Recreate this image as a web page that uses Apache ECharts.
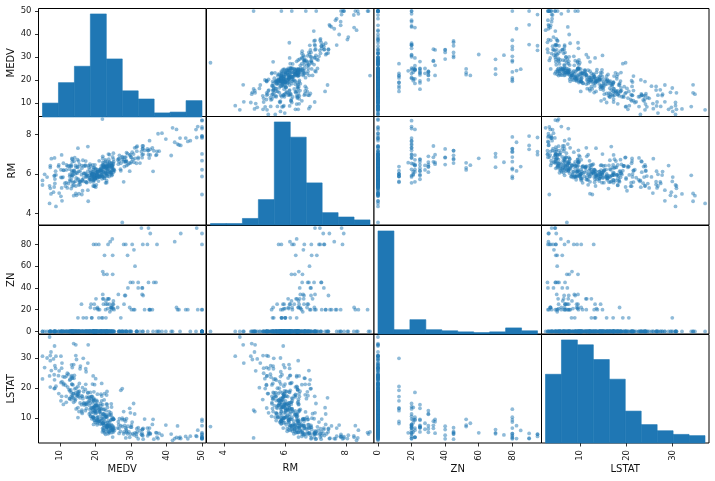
<!DOCTYPE html>
<html lang="en">
<head>
    <meta charset="UTF-8">
    <title>scatter matrix</title>
    <script src="https://cdn.jsdelivr.net/npm/echarts@6/dist/echarts.min.js"></script>
    <style>
        body { margin: 0; background: #fff; }
        #main { width: 715px; height: 481px; }
    </style>
</head>
<body>
<div id="main"></div>
<script>
    // values, same row order in all four lists
    var medv = [
        24,21.6,34.7,33.4,28.7,22.9,27.1,16.5,18.9,15,
        18.9,21.7,20.4,19.9,23.1,17.5,20.2,18.2,13.6,19.6,
        15.2,14.5,13.9,16.6,14.8,18.4,21,12.7,14.5,13.2,
        13.1,18.9,20,21,24.7,30.8,26.6,25.3,24.7,19.3,
        20,16.6,14.4,19.4,19.7,20.5,25,23.4,35.4,24.7,
        23.3,19.6,18.7,16,22.2,25,23.5,19.4,22,17.4,
        20.9,24.2,21.7,22.8,23.4,21.4,20,20.8,21.2,20.3,
        28,23.9,24.8,22.9,26.6,22.5,22.2,23.6,28.7,22.6,
        22,22.9,25,28.4,21.4,38.7,43.8,33.2,27.5,26.5,
        18.6,19.3,19.5,19.5,20.4,19.8,19.4,21.7,22.8,18.8,
        18.7,18.3,21.2,19.2,20.4,19.3,22,20.3,20.5,17.3,
        21.4,15.7,16.2,18,14.3,19.2,19.6,23,18.4,18.1,
        17.4,17.1,13.3,17.8,14,14.4,13.4,15.6,13.8,15.6,
        14.6,17.8,15.4,21.5,19.6,15.3,19.4,15.6,13.1,41.3,
        24.3,23.3,27,50,25,50,23.8,23.8,22.3,17.4,
        19.1,23.1,23.6,29.4,23.2,24.6,29.9,37.2,39.8,36.2,
        37.9,32.5,29.6,50,32,29.8,34.9,37,30.5,36.4,
        31.1,50,33.3,30.3,34.6,34.9,32.9,24.1,42.3,48.5,
        22.6,24.4,22.5,24.4,20,21.7,19.3,22.4,28.1,25,
        23.3,28.7,21.5,23,26.7,21.7,27.5,30.1,50,37.6,
        31.6,46.7,31.5,24.3,31.7,41.7,48.3,24,25.1,31.5,
        23.7,23.3,22,20.1,22.2,23.7,18.5,24.3,20.5,24.5,
        26.2,24.4,24.8,29.6,42.8,20.9,44,50,36,30.1,
        33.8,43.1,48.8,31,22.8,30.7,50,43.5,20.7,21.1,
        25.2,24.4,35.2,32,33.2,33.1,29.1,35.1,45.4,35.4,
        46,50,22,20.1,23.2,22.3,24.8,28.5,37.3,27.9,
        23.9,28.6,27.1,20.3,22.5,29,24.8,22,26.4,33.1,
        28.4,33.4,28.2,22.8,20.3,16.1,22.1,19.4,21.6,16.2,
        17.8,19.8,23.1,21,23.8,23.1,20.4,18.5,24.6,23,
        22.2,19.3,22.6,19.8,17.1,19.4,22.2,21.1,19.5,18.5,
        27.5,21.9,50,50,50,50,50,13.8,15,13.9,
        13.3,13.1,10.2,10.4,10.9,11.3,12.3,8.8,7.2,10.5,
        7.4,10.2,11.5,15.1,23.2,9.7,13.8,12.7,13.1,12.5,
        8.5,5,6.3,5.6,7.2,12.1,8.3,8.5,5,27.9,
        17.2,27.5,15,17.2,17.9,16.3,7,7.2,7.5,10.4,
        8.8,8.4,16.7,14.2,20.8,13.4,11.7,8.3,10.2,10.9,
        11,9.5,14.5,14.1,16.1,14.3,11.7,13.4,9.6,8.7,
        8.4,12.8,10.5,17.1,18.4,15.4,10.8,11.8,14.9,12.6,
        13,13.4,15.2,16.1,17.8,14.9,12.7,13.5,20,16.4,
        19.9,19,19.1,23.2,29.8,13.8,13.3,12,21.4,23.7,
        25,21.8,20.6,19.1,15.2,7,8.1,13.6,24.5,23.1,
        19.7,18.3,17.5,16.8,22.4,20.6,23.9,22
    ];
    var rm = [
        6.58,6.42,7.19,7,6.43,6.01,6.17,5.63,6,6.38,
        6.01,5.89,5.95,5.83,5.94,5.99,5.46,5.73,5.57,5.97,
        6.14,5.81,5.6,5.81,6.05,6.5,6.67,5.71,6.07,5.95,
        5.7,5.93,5.84,5.85,5.97,6.6,6.77,6.17,6.21,5.68,
        5.79,6.03,5.4,5.6,5.96,6.12,6.51,6,7.25,6.38,
        6.15,5.93,5.74,5.97,6.46,6.76,6.29,5.79,5.88,5.59,
        5.89,6.42,5.96,6.07,6.25,6.29,6.28,6.14,6.23,5.87,
        6.73,6.62,6.3,6.17,6.63,6.02,6.12,7.01,7.08,6.42,
        6.41,6.44,6.21,6.63,6.16,8.07,7.82,7.42,6.73,6.78,
        6.41,6.14,5.85,5.84,6.13,6.47,6.23,6.2,6.72,5.91,
        6.09,5.93,6.18,6.02,5.87,5.73,5.87,6,5.96,5.86,
        5.99,5.61,5.69,6.43,5.64,6.46,6.33,6.37,5.82,6.34,
        5.94,6.45,5.86,6.15,6.17,5.02,5.4,5.47,6.13,5.63,
        4.93,5.19,5.6,6.12,5.4,5.01,5.71,6.15,5.27,6.94,
        6.07,6.51,6.25,8.38,6.1,7.93,5.88,6.32,6.4,5.88,
        5.88,5.57,6.42,6.55,6.02,6.32,6.86,6.98,7.77,6.14,
        7.16,6.56,6.15,7.83,6.78,6.56,7.19,6.95,6.74,7.18,
        6.8,7.88,7.29,7.11,7.27,6.98,7.14,6.16,7.61,7.85,
        5.89,6.33,5.78,6.06,5.34,5.96,5.4,5.81,6.38,6.18,
        5.89,6.64,5.95,6.37,6.95,6.16,6.88,6.62,8.73,8.04,
        7.16,7.69,6.55,5.98,7.41,8.34,8.25,6.09,6.63,7.36,
        6.48,6.61,6.9,6.1,6.36,6.39,5.61,6.11,6.23,6.43,
        6.72,6.49,6.44,6.96,8.26,5.88,7.45,8.7,7.33,6.84,
        7.2,7.52,8.4,7.33,5.56,7.01,8.3,7.47,5.92,5.86,
        6.24,6.54,7.69,6.85,7.27,6.83,6.48,6.81,7.82,6.97,
        7.65,7.92,6.45,6.23,6.21,6.32,6.57,6.86,7.15,6.63,
        6.13,6.68,6.55,5.79,6.35,7.04,6.87,6.59,6.5,6.98,
        6.62,7.42,6.85,6.64,5.97,4.97,6.12,6.02,6.27,5.71,
        5.91,5.78,6.38,6.11,6.43,6.38,6.04,5.71,6.43,6.31,
        6.08,5.87,6.33,5.71,6.03,6.32,6.31,5.87,5.9,6.06,
        3.56,8.78,6.68,7.02,4.97,6.22,5.88,4.91,7.31,6.65,
        6.79,6.38,6.22,6.97,6.55,5.54,5.52,4.37,5.28,4.65,
        5,4.88,5.39,5.71,6.05,5.04,6.19,5.89,6.47,6.41,
        5.75,5.45,5.85,5.99,6.34,6.4,5.35,5.53,5.68,5.61,
        5.62,6.85,5.76,6.66,4.63,5.16,4.52,6.43,6.78,5.3,
        5.96,6.82,6.41,6.01,5.65,6.1,5.57,5.9,5.84,6.2,
        6.19,6.38,6.35,6.83,6.43,6.44,6.21,6.63,6.46,6.15,
        5.94,5.63,5.82,6.41,6.22,6.49,5.85,6.46,6.34,6.25,
        6.42,6.75,6.66,6.3,7.39,6.73,5.98,5.94,6.08,6.7,
        5.76,5.95,6,6.44,6.98,5.43,6.16,5.3,6.23,6.75,
        7.06,5.76,5.87,6.11,5.45,5.41,5.09,5.98,5.93,5.67,
        5.39,5.79,5.57,6.03,6.59,6.12,6.98,6.79
    ];
    var zn = [
        18,0,0,0,0,12.5,12.5,12.5,12.5,12.5,
        12.5,12.5,0,0,0,0,0,0,0,0,
        0,0,0,0,0,0,0,0,0,0,
        0,0,0,0,0,75,0,0,0,0,
        0,0,0,0,21,21,21,21,90,85,
        25,25,25,25,25,25,80,80,12.5,12.5,
        12.5,0,0,0,0,0,0,0,0,0,
        25,25,25,25,0,0,0,0,0,0,
        0,28,28,0,0,0,0,0,0,0,
        0,0,0,0,0,0,0,0,0,0,
        0,0,0,0,0,0,0,0,0,0,
        0,0,0,0,0,0,0,0,0,0,
        0,0,0,0,0,0,0,0,0,0,
        0,0,0,0,0,0,0,0,0,0,
        0,0,0,0,0,0,0,0,0,0,
        0,0,0,0,0,0,0,0,0,0,
        0,0,0,0,45,45,45,45,45,45,
        60,80,80,80,80,95,95,82.5,82.5,95,
        0,0,0,0,0,0,0,0,0,0,
        0,0,0,0,0,0,0,0,0,0,
        0,0,0,0,0,0,0,0,0,0,
        30,30,30,30,30,30,22,22,22,22,
        22,22,22,22,22,80,90,20,20,20,
        20,20,20,20,20,20,20,20,20,20,
        20,20,20,40,40,40,40,20,20,20,
        20,90,55,80,52.5,52.5,52.5,80,80,80,
        0,0,0,0,70,70,70,34,34,34,
        33,33,33,0,0,0,0,0,0,0,
        0,0,0,0,0,0,0,0,0,0,
        0,0,0,0,0,0,0,0,0,0,
        0,0,0,0,0,0,0,0,0,0,
        0,0,0,0,0,0,0,0,0,0,
        0,0,0,0,0,0,0,0,0,0,
        0,0,0,0,0,0,0,0,0,0,
        0,0,0,0,0,0,0,0,0,0,
        0,0,0,0,0,0,0,0,0,0,
        0,0,0,0,0,0,0,0,0,0,
        0,0,0,0,0,0,0,0,0,0,
        0,0,0,0,0,0,0,0,0,0,
        0,0,0,0,0,0,0,0,0,0,
        0,0,0,0,0,0,0,0,0,0,
        0,0,0,0,0,0,0,0
    ];
    var lstat = [
        5,9.1,4,2.9,5.2,12.4,19.2,29.9,17.1,20.5,
        13.3,15.7,8.3,8.5,6.6,14.7,11.7,11.3,21,13.8,
        18.7,19.9,16.5,14.8,17.3,12.8,12,22.6,13,27.7,
        18.4,9.7,11.4,8.8,10.1,4.3,4.8,5.8,7.4,10.2,
        14.2,18.8,30.8,16.2,13.5,9.4,5.3,8.4,4.8,5.8,
        6.9,9.2,13.2,14.4,6.7,9.5,4.7,10.2,8.1,13.1,
        8.8,6.7,9.9,5.5,7.5,8.9,12,10.3,12.3,9.1,
        5.3,7.2,6.7,7.5,6.5,12.9,8.4,5.5,5.7,8.8,
        8.2,8.2,6.2,6.7,11.3,4.2,3.6,6.2,9.4,7.7,
        10.6,13.4,16.5,18.7,14.1,12.3,15.6,13,10.2,16.2,
        17.1,15.8,12,10.3,15.4,13.6,14.4,14.3,17.9,25.4,
        14.8,27.3,17.2,15.4,18.3,12.6,12.3,11.1,15,17,
        16.9,14.6,21.3,18.5,24.2,34.4,26.8,26.4,27.8,16.7,
        29.5,28.3,21.5,14.1,13.3,12.1,15.8,15,16.1,4.6,
        6.4,7.4,5.5,3.3,9.8,3.7,12.1,11.1,11.3,14.4,
        12,14.7,9,5.3,10.1,6.3,6.9,5,7.6,9.5,
        4.8,5.7,13.2,4.5,6.7,4.6,5.4,5.1,4.7,2.9,
        5,3,4.1,8.6,6.6,4.6,4.5,7.4,3.1,3.8,
        10.9,11,18.1,14.7,23.1,17.3,24,16,9.4,9.5,
        13.5,9.7,17.9,10.5,9.7,21.5,9.9,7.6,4.6,3.1,
        6.4,3.9,3.8,11.7,5.3,2.5,4,10.9,9.5,4.7,
        6.4,7.4,11.4,12.4,11.2,5.2,18.5,9.2,10.2,9.5,
        6.6,5.9,3.6,3.5,3.5,9.3,3.1,5.1,7.8,6.9,
        9.6,7.3,5.9,11.3,10.5,14.8,7.4,3.2,13.7,13,
        6.6,7.7,6.6,3,6.1,4.2,7.2,4.9,3.8,4.6,
        3,3.2,8.2,12.9,7.1,7.6,9.5,3.3,3.6,4.7,
        8.6,6.3,7.4,15.8,5,4.7,6.1,9.5,8.7,4.9,
        8.9,6.5,7.5,4.5,10,12.6,6,11.7,7.9,11.5,
        18.3,15.9,10.4,12.7,7.2,6.9,7.7,11.7,5.1,6.2,
        12.8,10,7.3,9.1,12.4,7.8,5.7,8,9.8,10.6,
        7.1,5.3,3.7,3,3.3,9.5,8.9,34.8,13.4,23.2,
        21.2,23.7,21.8,17.2,21.1,23.6,24.6,30.6,30.8,28.3,
        32,30.6,20.9,17.1,18.8,25.7,15.2,16.4,17.1,19.4,
        19.9,30.6,30,26.8,20.3,20.3,19.8,27.4,23,12.1,
        26.4,19.8,10.1,21.2,34.4,20.1,37,29.1,25.8,26.6,
        20.6,22.7,15,15.7,14.1,23.3,17.2,24.4,15.7,14.5,
        21.5,24.1,17.6,19.7,12,16.2,15.2,23.3,18.1,26.5,
        34,22.9,22.1,19.5,16.6,18.9,23.8,24,17.8,16.4,
        19.3,17.4,17.7,17.3,16.7,18.7,19,16.9,14.7,16.4,
        14.1,17.2,21.3,14.4,11.7,18.1,24.1,24.9,13.1,7.7,
        7,10.4,13.3,15,18.1,24,29.7,18.1,13.6,17.6,
        21.1,14.1,15.1,14.3,9.7,9.1,5.6,6.5
    ];

    // bar heights of the diagonal histograms, 10 bins each
    var medvHist = [17,42,62,126,71,32,22,5,6,20];
    var rmHist = [2,2,9,35,142,121,58,17,11,7];
    var znHist = [288,12,40,12,9,6,4,6,17,9];
    var lstatHist = [56,84,80,68,52,26,15,10,7,6];

    var medvTicks = [10,20,30,40,50];
    var rmTicks = [4,6,8];
    var znTicks = [0,20,40,60,80];
    var lstatTicks = [10,20,30];

    var names = ['MEDV', 'RM', 'ZN', 'LSTAT'];

    if (medv.length !== rm.length || rm.length !== zn.length || zn.length !== lstat.length) {
        throw new Error('columns differ: ' + [medv.length, rm.length, zn.length, lstat.length]);
    }

    var columns = [medv, rm, zn, lstat];
    var hists = [medvHist, rmHist, znHist, lstatHist];
    var ticks = [medvTicks, rmTicks, znTicks, lstatTicks];
    // axis limits: data range plus the 2.5% margin on each side
    var dataMin = [5, 3.56, 0, 2.47];
    var dataMax = [50, 8.78, 95, 36.98];
    var lims = dataMin.map(function (lo, i) {
        var pad = (dataMax[i] - lo) * 0.025;
        return [lo - pad, dataMax[i] + pad];
    });

    var left = [38.5, 206.5, 374, 541.5];
    var top_ = [8.5, 116.5, 225.5, 334.5];
    var cellW = 167.5;
    var cellH = 108.5;
    var color = '#1f77b4';

    var grids = [], xAxes = [], yAxes = [], series = [];

    function axisBase(v, show) {
        return {
            type: 'value',
            show: show,
            min: lims[v][0],
            max: lims[v][1],
            splitLine: { show: false },
            axisLine: { show: false },
            axisTick: { show: true, length: 3.5, customValues: ticks[v], lineStyle: { color: '#000', width: 0.8 } },
            axisLabel: { show: true, customValues: ticks[v], color: '#222', fontSize: 8.5, fontFamily: 'DejaVu Sans', margin: 7 },
            nameTextStyle: { color: '#111', fontSize: 10, fontFamily: 'DejaVu Sans' },
            nameLocation: 'middle',
            silent: true
        };
    }

    function drawBin(params, api) {
        var p0 = api.coord([api.value(0), 0]);
        var p1 = api.coord([api.value(1), api.value(2)]);
        return {
            type: 'rect',
            shape: { x: p0[0], y: p1[1], width: p1[0] - p0[0], height: p0[1] - p1[1] },
            style: { fill: color, stroke: color, lineWidth: 0.6 }
        };
    }

    for (var r = 0; r < 4; r++) {
        for (var c = 0; c < 4; c++) {
            var g = grids.length;
            grids.push({
                show: true, left: left[c], top: top_[r], width: cellW, height: cellH,
                borderColor: '#000', borderWidth: 1, backgroundColor: '#fff'
            });

            var xa = axisBase(c, r === 3);
            xa.gridIndex = g;
            xa.position = 'bottom';
            xa.axisLabel.rotate = 90;
            if (r === 3) {
                xa.name = names[c];
                xa.nameGap = 20;
            }
            xAxes.push(xa);
            var xi = xAxes.length - 1;

            // value axis of the row, only the left column shows it
            var ya = axisBase(r, c === 0);
            ya.gridIndex = g;
            ya.position = 'left';
            if (c === 0) {
                ya.name = names[r];
                ya.nameGap = 21;
                ya.nameRotate = 90;
            }
            yAxes.push(ya);

            if (r === c) {
                // diagonal: counts on a hidden axis, tallest bar at 95% of the cell
                var maxCount = Math.max.apply(null, hists[r]);
                yAxes.push({ type: 'value', show: false, gridIndex: g, min: 0, max: maxCount / 0.95, splitLine: { show: false } });
                var step = (dataMax[r] - dataMin[r]) / 10;
                series.push({
                    type: 'custom',
                    xAxisIndex: xi,
                    yAxisIndex: yAxes.length - 1,
                    renderItem: drawBin,
                    silent: true,
                    data: hists[r].map(function (n, i) {
                        return [dataMin[r] + i * step, dataMin[r] + (i + 1) * step, n];
                    })
                });
            } else {
                series.push({
                    type: 'scatter',
                    xAxisIndex: xi,
                    yAxisIndex: yAxes.length - 1,
                    symbolSize: 3.8,
                    silent: true,
                    itemStyle: { color: color, opacity: 0.5 },
                    data: columns[c].map(function (v, i) { return [v, columns[r][i]]; })
                });
            }
        }
    }

    var myChart = echarts.init(document.getElementById('main'));
    myChart.setOption({
        animation: false,
        backgroundColor: '#fff',
        grid: grids,
        xAxis: xAxes,
        yAxis: yAxes,
        series: series
    });
</script>
</body>
</html>
